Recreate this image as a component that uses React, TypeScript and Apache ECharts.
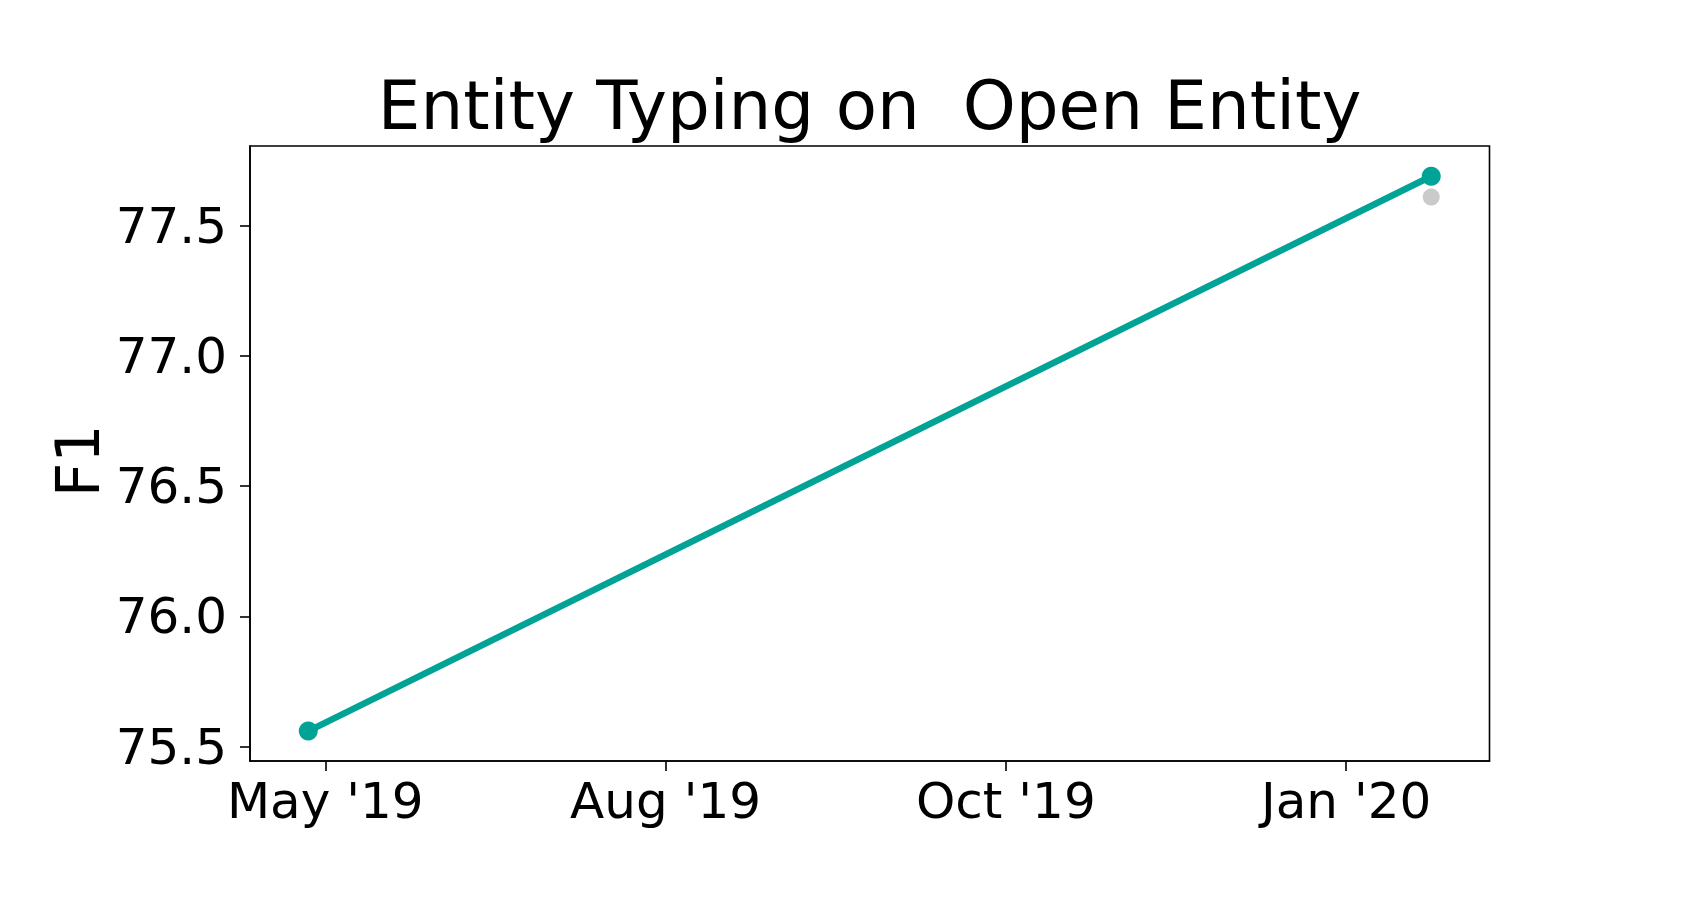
import React, { useEffect, useRef } from "react";
import * as echarts from "echarts";

const titleText = "Entity Typing on  Open Entity";
const yAxisTitle = "F1";

// Main (teal) series
const lineDates = ["2019-05-17", "2020-02-05"];
const lineValues = [75.56, 77.69];

// Gray point
const grayDates = ["2020-02-05"];
const grayValues = [77.61];

// X tick positions & labels
const xTickDates = ["2019-05-21", "2019-08-09", "2019-10-28", "2020-01-16"];
const xTickLabels = ["May '19", "Aug '19", "Oct '19", "Jan '20"];

// Y ticks
const yTicks = [75.5, 76.0, 76.5, 77.0, 77.5];
const yMin = 75.445;
const yMax = 77.806;

const dayNum = (s: string) => {
  const [y, m, d] = s.split("-").map(Number);
  return Date.UTC(y, m - 1, d) / 86400000;
};

const FONT = "DejaVu Sans";
const TEAL = "#00a396";
const GRAY = "#bdbdbd";

export default function App() {
  const ref = useRef<HTMLDivElement>(null);
  useEffect(() => {
    if (!ref.current) return;
    const chart = echarts.init(ref.current, undefined, { renderer: "svg" });
    const xTickVals = xTickDates.map(dayNum);
    const first = dayNum(lineDates[0]);
    const last = dayNum(lineDates[lineDates.length - 1]);
    const pad = 13.7;
    chart.setOption({
      animation: false,
      backgroundColor: "#ffffff",
      grid: {
        left: 250,
        right: 1700 - 1489.5,
        top: 146,
        bottom: 900 - 761,
        show: true,
        borderColor: "#000",
        borderWidth: 1.6,
        backgroundColor: "transparent",
      },
      graphic: [
        {
          type: "text",
          x: 869.6,
          y: 105,
          style: {
            text: titleText,
            font: `67.5px '${FONT}'`,
            fill: "#000",
            textAlign: "center",
            textVerticalAlign: "middle",
          },
        },
        {
          type: "text",
          x: 78,
          y: 461,
          rotation: Math.PI / 2,
          style: {
            text: yAxisTitle,
            font: `60px '${FONT}'`,
            fill: "#000",
            textAlign: "center",
            textVerticalAlign: "middle",
          },
        },
      ],
      xAxis: {
        type: "value",
        min: first - pad,
        max: last + pad,
        splitLine: { show: false },
        axisLine: { show: true, lineStyle: { color: "#000", width: 1.6 } },
        axisTick: {
          show: true,
          length: 10,
          lineStyle: { color: "#000", width: 1.6 },
          customValues: xTickVals,
        },
        axisLabel: {
          customValues: xTickVals,
          margin: 15,
          color: "#000",
          fontFamily: FONT,
          fontSize: 50,
          formatter: (v: number) => {
            const i = xTickVals.findIndex((t) => Math.abs(t - v) < 0.01);
            return i >= 0 ? xTickLabels[i] : "";
          },
        },
      },
      yAxis: {
        type: "value",
        min: yMin,
        max: yMax,
        splitLine: { show: false },
        axisLine: { show: true, lineStyle: { color: "#000", width: 1.6 } },
        axisTick: {
          show: true,
          length: 10,
          lineStyle: { color: "#000", width: 1.6 },
          customValues: yTicks,
        },
        axisLabel: {
          customValues: yTicks,
          margin: 23,
          color: "#000",
          fontFamily: FONT,
          fontSize: 50,
          formatter: (v: number) => v.toFixed(1),
        },
      },
      series: [
        {
          type: "scatter",
          data: grayDates.map((d, i) => [dayNum(d), grayValues[i]]),
          symbol: "circle",
          symbolSize: 17,
          itemStyle: { color: GRAY },
          z: 2,
        },
        {
          type: "line",
          data: lineDates.map((d, i) => [dayNum(d), lineValues[i]]),
          symbol: "circle",
          symbolSize: 19,
          showSymbol: true,
          lineStyle: { color: TEAL, width: 6.5 },
          itemStyle: { color: TEAL },
          z: 3,
        },
      ],
    });
    return () => chart.dispose();
  }, []);
  return (
    <div
      ref={ref}
      style={{ position: "fixed", left: 0, top: 0, width: 1700, height: 900 }}
    />
  );
}
